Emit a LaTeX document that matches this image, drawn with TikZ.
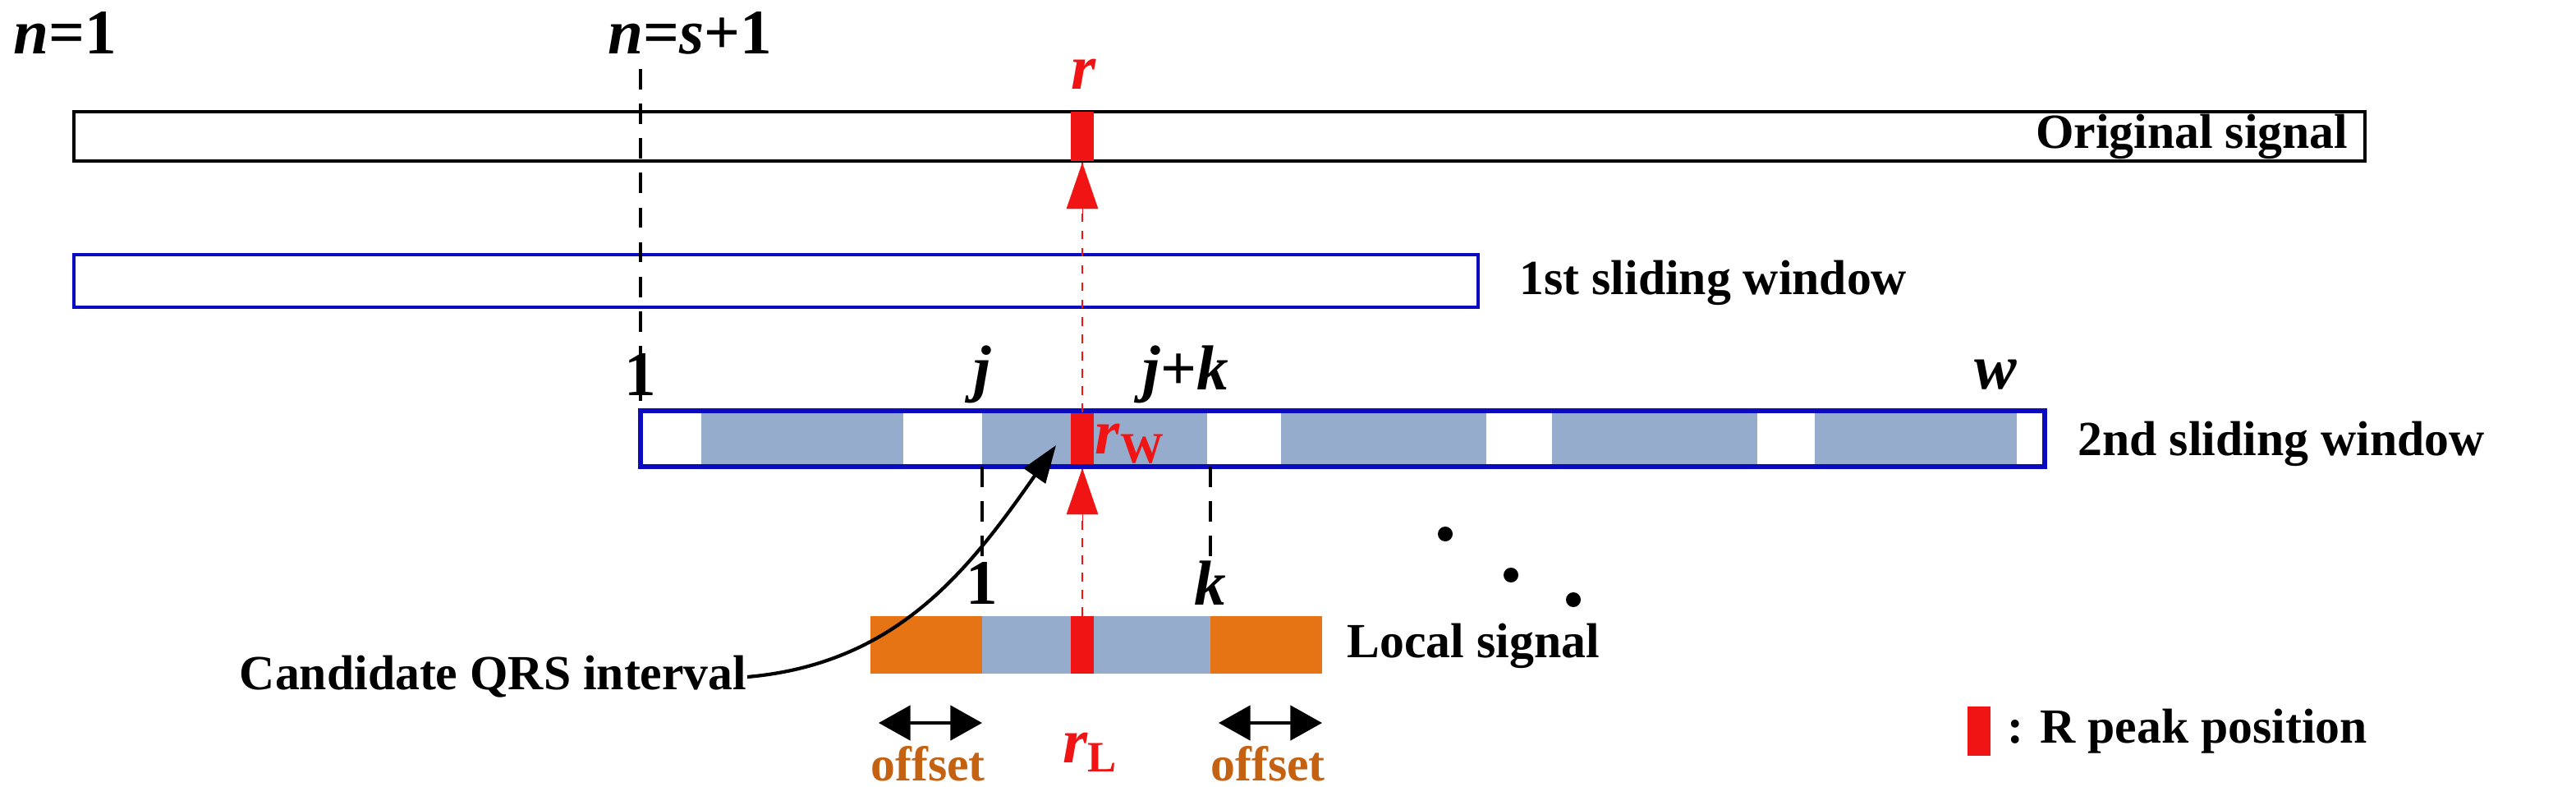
\documentclass[tikz,border=0pt]{standalone}
\usepackage{fontspec}
\setmainfont{Liberation Serif}
\usetikzlibrary{arrows.meta}
\definecolor{seg}{RGB}{149,172,204}
\definecolor{org}{RGB}{230,115,20}
\definecolor{wblue}{RGB}{10,10,190}
\definecolor{rpk}{RGB}{240,20,20}
\begin{document}
\begin{tikzpicture}[x=0.02cm,y=-0.02cm,
  lbl/.style={font=\fontsize{17}{20}\selectfont\bfseries,inner sep=0},
  big/.style={font=\fontsize{22}{26}\selectfont\bfseries,inner sep=0},
  rbar/.style={fill=rpk,draw=none},
  segb/.style={fill=seg,draw=none},
  dsh/.style={dashed,line width=1.2pt,dash pattern=on 7pt off 5pt}]
\useasboundingbox (0,0) rectangle (1568.5,479);
% original signal
\draw[line width=1.2pt] (45,68) rectangle (1440,98);
\fill[rbar] (652,68) rectangle (666,98);
\node[lbl,anchor=east] (orig) at (1430,83) {Original signal};
\node[big,text=rpk] (r) at (660,45) {\textit{r}};
\node[big,anchor=west] (n1) at (8,20) {\textit{n}=1};
\node[big] (ns) at (420,20) {\textit{n}=\textit{s}+1};
% 1st window
\draw[wblue,line width=1.4pt] (45,155) rectangle (900,187);
\node[lbl,anchor=west] (w1) at (925,172) {1st sliding window};
% 2nd window
\foreach \a/\b in {427/550,598/735,780/905,945/1070,1105/1228}
  \fill[segb] (\a,251) rectangle (\b,283);
\fill[rbar] (652,251) rectangle (666,283);
\draw[wblue,line width=1.6pt] (390,250) rectangle (1245,284);
\node[lbl,anchor=west] (w2) at (1265,270) {2nd sliding window};
\node[big,text=rpk] (rw) at (688,270) {\textit{r}\textsubscript{\fontsize{15}{16}\selectfont W}};
\node[big] (l1) at (390,228) {1};
\node[big] (lj) at (598,228) {\textit{j}};
\node[big] (ljk) at (722,228) {\textit{j}+\textit{k}};
\node[big] (lw) at (1215,228) {\textit{w}};
% dashed black
\coordinate (d0) at (390,42); \coordinate (d1) at (390,250);
\draw[dsh] (d0) -- (d1);
\coordinate (dj0) at (598,284); \coordinate (dj1) at (598,345);
\coordinate (dk0) at (737,284); \coordinate (dk1) at (737,345);
\draw[dsh] (dj0) -- (dj1);
\draw[dsh] (dk0) -- (dk1);
% local signal
\fill[org] (530,375) rectangle (598,410);
\fill[segb] (598,375) rectangle (737,410);
\fill[org] (737,375) rectangle (805,410);
\fill[rbar] (652,375) rectangle (666,410);
\node[lbl,anchor=west] (loc) at (820,393) {Local signal};
\node[big] (ll1) at (598,355) {1};
\node[big] (llk) at (737,355) {\textit{k}};
% red dashed + arrows
\coordinate (a0) at (659,375); \coordinate (a1) at (659,285);
\coordinate (b0) at (659,251); \coordinate (b1) at (659,99);
\draw[rpk,dashed,line width=0.8pt] (a0) -- (a1);
\draw[rpk,dashed,line width=0.8pt] (b0) -- (b1);
\draw[rpk,-{Triangle[length=16pt,width=11pt]},line width=0.1pt] (659,320) -- (a1);
\draw[rpk,-{Triangle[length=16pt,width=11pt]},line width=0.1pt] (659,134) -- (b1);
% offsets
\draw[{Triangle[length=11pt,width=12pt]}-{Triangle[length=11pt,width=12pt]},line width=1.2pt] (535,440) -- (598,440);
\draw[{Triangle[length=11pt,width=12pt]}-{Triangle[length=11pt,width=12pt]},line width=1.2pt] (742,440) -- (805,440);
\node[lbl,text=org!85!black] (o1) at (565,465) {offset};
\node[lbl,text=org!85!black] (o2) at (772,465) {offset};
\node[big,text=rpk] (rl) at (664,458) {\textit{r}\textsubscript{\fontsize{15}{16}\selectfont L}};
% candidate
\node[lbl,anchor=east] (cand) at (455,412) {Candidate QRS interval};
\coordinate (ct) at (643,271);
\draw[line width=1.2pt,-{Triangle[length=13pt,width=9pt]}] (cand.east) to[out=5,in=235] (ct);
% dots
\fill (880,325) circle (4.5); \fill (920,350) circle (4.5); \fill (958,365) circle (4.5);
% legend
\fill[rbar] (1198,430) rectangle (1212,460);
\node[lbl,anchor=west] (leg) at (1222,445) {: R peak position};
\end{tikzpicture}
\end{document}
